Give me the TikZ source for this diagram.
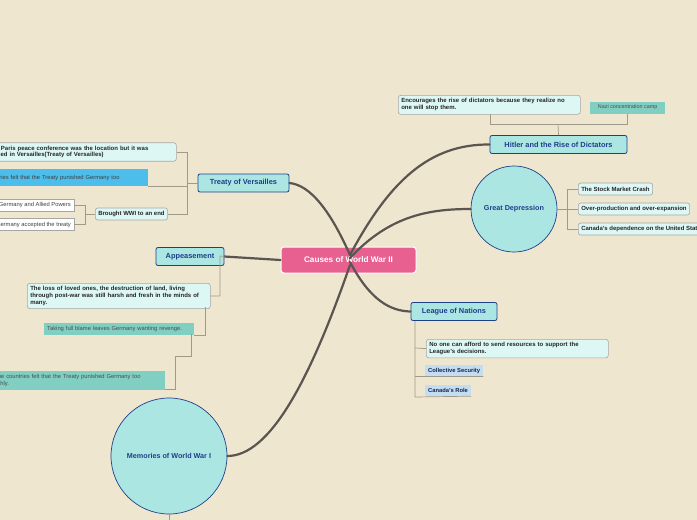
\documentclass[tikz,border=0pt]{standalone}
\usepackage{fontspec}
\setmainfont{Liberation Sans}
\begin{document}
\begin{tikzpicture}[x=1pt,y=-1pt,
 main/.style={draw=cBlue,fill=cTopic,rounded corners=2pt,line width=0.8pt,font=\fontsize{7.4}{8}\selectfont\bfseries,text=cBlue,minimum height=18pt,inner xsep=4pt},
 sub/.style={draw=gray!70,fill=cSub,rounded corners=2.5pt,line width=0.6pt,font=\fontsize{6}{6.9}\selectfont\bfseries,text=black!85,align=left,inner sep=3pt},
 flat/.style={font=\fontsize{5.8}{6.8}\selectfont,text=black!70,align=left,inner sep=3pt},
 wbox/.style={draw=gray!70,fill=white,font=\fontsize{5.8}{6}\selectfont,text=black!75,minimum height=12pt,inner sep=3pt},
 br/.style={draw=cLine,line width=0.7pt},
 trunk/.style={draw=cTrunk,line width=2.2pt,line cap=round},
 circ/.style={circle,draw=cBlue,fill=cTopic,line width=0.7pt,font=\fontsize{7.2}{8}\selectfont\bfseries,text=cBlue}]
\definecolor{cBg}{HTML}{EFE6CF}
\definecolor{cTopic}{HTML}{ACE6E2}
\definecolor{cBlue}{HTML}{1E3F8A}
\definecolor{cSub}{HTML}{DDF7F5}
\definecolor{cLine}{HTML}{A09A8A}
\definecolor{cTrunk}{HTML}{5A5550}
\definecolor{cTeal}{HTML}{80CFC2}
\definecolor{cSky}{HTML}{4DBDEB}
\definecolor{cPale}{HTML}{C5DDF0}
\definecolor{cPink}{HTML}{E8608F}
\fill[cBg] (0,0) rectangle (697,520);
\useasboundingbox (0,0) rectangle (697,520);
\clip (0,0) rectangle (697,520);
% main nodes
\node[draw=white,fill=cPink,rounded corners=3pt,line width=1pt,text=white,font=\fontsize{8.2}{9}\selectfont\bfseries,minimum width=135pt,minimum height=26pt] (c) at (348.5,260) {Causes of World War II};
\node[main,minimum width=91pt] (tv) at (243.5,183) {Treaty of Versailles};
\node[main,minimum width=68pt] (ap) at (190,256.5) {Appeasement};
\node[main,minimum width=137pt] (hi) at (558.5,144.5) {Hitler and the Rise of Dictators};
\node[circ,minimum size=86pt] (gd) at (514,209) {Great Depression};
\node[main,minimum width=86pt] (ln) at (454,311.5) {League of Nations};
\node[circ,minimum size=116pt] (wm) at (169,456) {Memories of World War I};
% trunks
\draw[trunk] (350,255) .. controls (330,210) and (310,185) .. (tv.east);
\draw[trunk] (c.west) -- (ap.east);
\draw[trunk] (350,255) .. controls (390,180) and (430,144) .. (hi.west);
\draw[trunk] (350,258) .. controls (390,215) and (430,209) .. (gd.west);
\draw[trunk] (350,262) .. controls (370,300) and (390,311) .. (ln.west);
\draw[trunk] (350,265) .. controls (310,380) and (270,456) .. (wm.east);
% treaty children
\node[sub,anchor=west,minimum height=18pt,minimum width=192pt,text width=184pt] (t1) at (-16,152) {The Paris peace conference was the location but it was\\ signed in Versailles(Treaty of Versailles)};
\node[flat,fill=cSky,anchor=west,minimum height=17pt,minimum width=183pt,text width=177pt,text=black!75] (t2) at (-35,177.5) {Some countries felt that the Treaty punished Germany too};
\node[sub,anchor=west,minimum height=12pt] (t3) at (95,214) {Brought WWI to an end};
\node[wbox,anchor=east] (t4) at (74,205) {Armistice between Germany and Allied Powers};
\node[wbox,anchor=east] (t5) at (74,224.5) {Germany accepted the treaty};
\draw[br] (tv.west) -- (187,183) |- (t1.east);
\draw[br] (187,183) |- (t3.east);
\draw[br] (187,186) -- (148,186);
\draw[br] (t3.west) -- (85,214) |- (t4.east);
\draw[br] (85,214) |- (t5.east);
% appeasement chain
\node[sub,anchor=north west,text width=177pt,minimum height=24pt] (a1) at (27,283) {The loss of loved ones, the destruction of land, living through post-war was still harsh and fresh in the minds of many.};
\node[flat,fill=cTeal,anchor=west,minimum height=11pt,text width=144pt] (a2) at (44,329) {Taking full blame leaves Germany wanting revenge.};
\node[flat,fill=cTeal,anchor=west,minimum height=17pt,minimum width=179pt,text width=173pt] (a3) at (-14,380.5) {Some countries felt that the Treaty punished Germany too\\ harshly.};
\draw[br] (ap.east) -- (220,256) |- (a1.east);
\draw[br] (205,307) |- (a2.south east);
\draw[br] (191,334) -- (191,356) -- (175,356) |- (a3.south east);
% hitler
\node[sub,anchor=north west,text width=176pt,minimum height=19pt] (h1) at (398,95) {Encourages the rise of dictators because they realize no one will stop them.};
\node[flat,fill=cTeal,anchor=west,minimum height=12pt,minimum width=75pt,font=\fontsize{5.4}{6}\selectfont] (h2) at (590,107.5) {Nazi concentration camp};
\draw[br] (hi.north) -- (558,124);
\draw[br] (490,114) |- (627,124) -- (627,113.5);
% great depression
\node[sub,anchor=west,minimum height=12pt] (g1) at (578,189) {The Stock Market Crash};
\node[sub,anchor=west,minimum height=12pt] (g2) at (578,209) {Over-production and over-expansion};
\node[sub,anchor=west,minimum height=12pt] (g3) at (578,229) {Canada's dependence on the United States};
\draw[br] (gd.east) -- (g2.west);
\draw[br] (g1.west) -- (567,189) |- (g3.west);
% league
\node[sub,anchor=north west,text width=176pt,minimum height=18pt] (l1) at (426,339) {No one can afford to send resources to support the League's decisions.};
\node[flat,fill=cPale,anchor=west,minimum height=11pt,font=\fontsize{5.8}{6}\selectfont\bfseries,text=cBlue!60!black] (l2) at (425,370.5) {Collective Security};
\node[flat,fill=cPale,anchor=west,minimum height=11pt,font=\fontsize{5.8}{6}\selectfont\bfseries,text=cBlue!60!black] (l3) at (425,390.5) {Canada's Role};
\draw[br] (415,321) -- (415,397) -- (l3.south east);
\draw[br] (415,348) -- (l1.west);
\draw[br] (415,376.5) -- (l2.south east);
% memories
\draw[br] (wm.south) -- (169,520);
\end{tikzpicture}
\end{document}
